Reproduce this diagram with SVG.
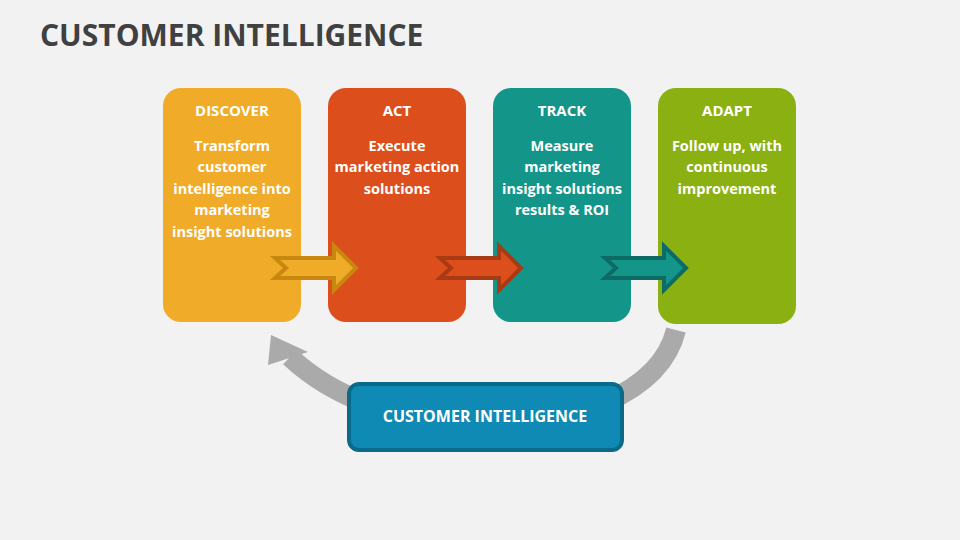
<svg xmlns="http://www.w3.org/2000/svg" width="960" height="540" viewBox="0 0 960 540">
<style>
text{font-family:"Open Sans","Liberation Sans",sans-serif;font-weight:bold;fill:#fff;text-anchor:middle}
.h{font-size:15px}.b{font-size:14.5px}
.t{font-size:30px;fill:#404040;text-anchor:start}
</style>
<rect width="960" height="540" fill="#f2f2f2"/>
<text class="t" x="40" y="46">CUSTOMER INTELLIGENCE</text>
<g id="discover"><rect x="163" y="88" width="138" height="234" rx="18" fill="#f0ab28"/>
<text class="h" x="232" y="116">DISCOVER</text>
<text class="b" x="232" y="151">Transform</text><text class="b" x="232" y="172">customer</text><text class="b" x="232" y="194">intelligence into</text><text class="b" x="232" y="215">marketing</text><text class="b" x="232" y="237">insight solutions</text></g>
<g id="act"><rect x="328" y="88" width="138" height="234" rx="18" fill="#dc4e1b"/>
<text class="h" x="397" y="116">ACT</text>
<text class="b" x="397" y="151">Execute</text><text class="b" x="397" y="172">marketing action</text><text class="b" x="397" y="194">solutions</text></g>
<g id="track"><rect x="493" y="88" width="138" height="234" rx="18" fill="#14958a"/>
<text class="h" x="562" y="116">TRACK</text>
<text class="b" x="562" y="151">Measure</text><text class="b" x="562" y="172">marketing</text><text class="b" x="562" y="194">insight solutions</text><text class="b" x="562" y="215">results &amp; ROI</text></g>
<g id="adapt"><rect x="658" y="88" width="138" height="236" rx="18" fill="#8ab012"/>
<text class="h" x="727" y="116">ADAPT</text>
<text class="b" x="727" y="151">Follow up, with</text><text class="b" x="727" y="172">continuous</text><text class="b" x="727" y="194">improvement</text></g>
<g id="connectors" stroke-width="4" stroke-linejoin="miter">
<polygon points="275,258 334,258 334,246 356,268 334,290 334,278 275,278 286,268" fill="#f0ab28" stroke="#c8870e"/>
<polygon points="440,258 499,258 499,246 521,268 499,290 499,278 440,278 451,268" fill="#dc4e1b" stroke="#a83a14"/>
<polygon points="605,258 664,258 664,246 686,268 664,290 664,278 605,278 616,268" fill="#14958a" stroke="#0d6b65"/>
<path d="M676,330 C660,395 570,425 485,425 C400,425 330,395 290,357" fill="none" stroke="#aaaaaa" stroke-width="20"/>
<polygon points="271,335 268,365 308,352" fill="#aaaaaa" stroke="none"/>
</g>
<g id="ci"><rect x="349" y="384" width="273" height="66" rx="10" fill="#0e8ab5" stroke="#0b6a8a" stroke-width="4"/>
<text x="485" y="422" style="font-size:16px">CUSTOMER INTELLIGENCE</text></g>
</svg>
